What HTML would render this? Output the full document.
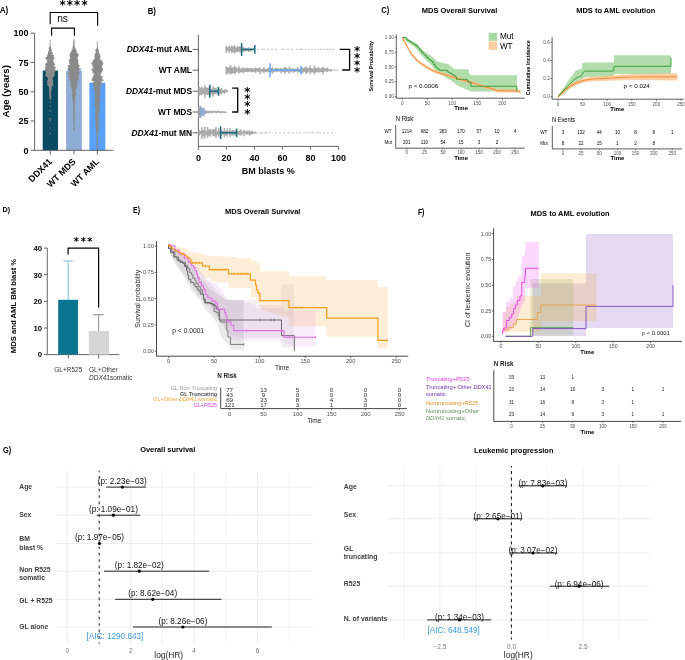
<!DOCTYPE html>
<html><head><meta charset="utf-8"><title>Figure</title>
<style>
html,body{margin:0;padding:0;background:#fff;}
body{width:685px;height:660px;overflow:hidden;}
svg{display:block;font-family:"Liberation Sans", Arial, sans-serif;}
</style></head><body>
<svg width="685" height="660" viewBox="0 0 685 660">
<rect width="685" height="660" fill="#fff"/>
<text x="-0.30" y="12.90" font-size="8.8" font-weight="700" textLength="8.6" lengthAdjust="spacingAndGlyphs">A)</text>
<line x1="34.60" y1="33.20" x2="34.60" y2="150.30" stroke="#555" stroke-width="0.9"/>
<line x1="30.60" y1="33.20" x2="34.60" y2="33.20" stroke="#555" stroke-width="0.9"/>
<text x="28.60" y="36.40" font-size="9" text-anchor="end" font-weight="700">100</text>
<line x1="30.60" y1="62.50" x2="34.60" y2="62.50" stroke="#555" stroke-width="0.9"/>
<text x="28.60" y="65.70" font-size="9" text-anchor="end" font-weight="700">75</text>
<line x1="30.60" y1="91.80" x2="34.60" y2="91.80" stroke="#555" stroke-width="0.9"/>
<text x="28.60" y="95.00" font-size="9" text-anchor="end" font-weight="700">50</text>
<line x1="30.60" y1="121.00" x2="34.60" y2="121.00" stroke="#555" stroke-width="0.9"/>
<text x="28.60" y="124.20" font-size="9" text-anchor="end" font-weight="700">25</text>
<line x1="30.60" y1="150.30" x2="34.60" y2="150.30" stroke="#555" stroke-width="0.9"/>
<text x="28.60" y="153.50" font-size="9" text-anchor="end" font-weight="700">0</text>
<text x="8.90" y="91.30" font-size="9.6" text-anchor="middle" font-weight="700" transform="rotate(-90 8.90 91.30)">Age (years)</text>
<rect x="42.70" y="70.60" width="15.30" height="79.70" fill="#0b4a63"/>
<rect x="66.10" y="70.60" width="15.70" height="79.70" fill="#8eadd6"/>
<rect x="89.40" y="82.70" width="15.90" height="67.60" fill="#58a0f8"/>
<path d="M49.41,45.60h1.10v1.3h-1.10zM48.90,46.77h2.00v1.3h-2.00zM48.78,47.94h2.64v1.3h-2.64zM48.89,49.11h2.64v1.3h-2.64zM48.58,50.28h3.15v1.3h-3.15zM48.08,51.45h3.67v1.3h-3.67zM47.94,52.62h4.98v1.3h-4.98zM47.65,53.79h4.72v1.3h-4.72zM47.18,54.96h6.68v1.3h-6.68zM46.57,56.13h7.12v1.3h-7.12zM45.45,57.30h8.86v1.3h-8.86zM45.93,58.47h8.24v1.3h-8.24zM47.07,59.64h5.72v1.3h-5.72zM47.09,60.81h6.67v1.3h-6.67zM46.82,61.98h6.88v1.3h-6.88zM45.40,63.15h9.42v1.3h-9.42zM45.03,64.32h9.73v1.3h-9.73zM46.05,65.49h7.89v1.3h-7.89zM44.52,66.66h11.26v1.3h-11.26zM45.39,67.83h9.74v1.3h-9.74zM44.88,69.00h10.36v1.3h-10.36zM44.41,70.17h11.86v1.3h-11.86zM46.00,71.34h8.50v1.3h-8.50zM45.96,72.51h9.01v1.3h-9.01zM45.49,73.68h9.11v1.3h-9.11zM45.27,74.85h9.33v1.3h-9.33zM47.02,76.02h6.73v1.3h-6.73zM47.52,77.19h5.34v1.3h-5.34zM48.07,78.36h4.50v1.3h-4.50zM47.38,79.53h5.75v1.3h-5.75zM47.13,80.70h5.88v1.3h-5.88zM47.41,81.87h5.72v1.3h-5.72zM47.33,83.04h5.68v1.3h-5.68zM47.35,84.21h6.32v1.3h-6.32zM48.21,85.38h4.20v1.3h-4.20zM49.13,86.55h2.42v1.3h-2.42zM49.20,87.72h2.69v1.3h-2.69zM48.67,88.89h2.75v1.3h-2.75zM49.25,90.06h2.15v1.3h-2.15zM49.30,91.23h1.74v1.3h-1.74zM49.00,92.40h1.87v1.3h-1.87zM49.52,93.57h1.73v1.3h-1.73zM49.13,94.74h1.78v1.3h-1.78zM49.45,95.91h2.02v1.3h-2.02zM49.34,97.08h1.66v1.3h-1.66zM49.74,98.25h1.46v1.3h-1.46zM49.60,40.00h1.2v1.2h-1.2zM49.60,42.30h1.2v1.2h-1.2zM49.60,44.00h1.2v1.2h-1.2zM49.60,101.50h1.2v1.2h-1.2zM49.60,105.50h1.2v1.2h-1.2zM49.60,110.00h1.2v1.2h-1.2zM48.80,118.30h1.2v1.2h-1.2zM50.40,118.30h1.2v1.2h-1.2zM49.60,120.30h1.2v1.2h-1.2zM49.60,127.40h1.2v1.2h-1.2zM49.60,133.00h1.2v1.2h-1.2z" fill="#8a8a8a"/>
<path d="M73.60,39.20h1.12v1.3h-1.12zM73.29,40.37h1.10v1.3h-1.10zM73.59,41.54h1.15v1.3h-1.15zM72.83,42.71h1.66v1.3h-1.66zM73.08,43.88h1.27v1.3h-1.27zM73.17,45.05h1.44v1.3h-1.44zM72.55,46.22h2.37v1.3h-2.37zM72.73,47.39h2.23v1.3h-2.23zM72.26,48.56h3.38v1.3h-3.38zM71.39,49.73h5.29v1.3h-5.29zM71.40,50.90h5.16v1.3h-5.16zM70.40,52.07h6.38v1.3h-6.38zM69.96,53.24h8.28v1.3h-8.28zM69.38,54.41h9.46v1.3h-9.46zM69.65,55.58h8.36v1.3h-8.36zM70.23,56.75h7.53v1.3h-7.53zM69.75,57.92h7.70v1.3h-7.70zM69.30,59.09h8.73v1.3h-8.73zM68.71,60.26h9.75v1.3h-9.75zM69.46,61.43h8.40v1.3h-8.40zM69.23,62.60h9.15v1.3h-9.15zM69.73,63.77h8.86v1.3h-8.86zM67.58,64.94h12.15v1.3h-12.15zM68.63,66.11h10.32v1.3h-10.32zM68.08,67.28h11.11v1.3h-11.11zM67.31,68.45h13.87v1.3h-13.87zM68.12,69.62h11.54v1.3h-11.54zM68.97,70.79h9.29v1.3h-9.29zM68.48,71.96h10.51v1.3h-10.51zM67.38,73.13h12.56v1.3h-12.56zM70.18,74.30h8.08v1.3h-8.08zM68.62,75.47h10.07v1.3h-10.07zM68.74,76.64h9.65v1.3h-9.65zM69.68,77.81h9.11v1.3h-9.11zM69.06,78.98h9.96v1.3h-9.96zM70.24,80.15h7.14v1.3h-7.14zM70.90,81.32h6.38v1.3h-6.38zM70.50,82.49h7.20v1.3h-7.20zM70.66,83.66h6.09v1.3h-6.09zM70.72,84.83h7.04v1.3h-7.04zM70.81,86.00h6.61v1.3h-6.61zM71.08,87.17h5.97v1.3h-5.97zM71.83,88.34h4.16v1.3h-4.16zM71.48,89.51h4.19v1.3h-4.19zM72.11,90.68h3.28v1.3h-3.28zM72.29,91.85h3.48v1.3h-3.48zM71.65,93.02h4.42v1.3h-4.42zM72.22,94.19h4.04v1.3h-4.04zM71.94,95.36h3.73v1.3h-3.73zM72.49,96.53h2.44v1.3h-2.44zM72.59,97.70h2.21v1.3h-2.21zM72.94,98.87h2.47v1.3h-2.47zM72.67,100.04h2.44v1.3h-2.44zM73.06,101.21h2.10v1.3h-2.10zM73.28,102.38h1.46v1.3h-1.46zM73.10,103.55h2.00v1.3h-2.00zM72.99,104.72h1.79v1.3h-1.79zM73.44,105.89h1.33v1.3h-1.33zM73.40,107.06h1.42v1.3h-1.42zM72.91,108.23h1.84v1.3h-1.84zM73.51,109.40h1.41v1.3h-1.41zM72.87,110.57h1.60v1.3h-1.60zM73.07,111.74h1.18v1.3h-1.18zM73.28,112.91h1.68v1.3h-1.68zM73.55,114.08h1.16v1.3h-1.16zM73.17,115.25h1.68v1.3h-1.68zM73.31,116.42h1.25v1.3h-1.25zM73.01,117.59h1.10v1.3h-1.10zM73.21,118.76h1.60v1.3h-1.60zM73.55,119.93h1.30v1.3h-1.30zM73.55,121.10h1.23v1.3h-1.23zM72.98,122.27h1.44v1.3h-1.44zM73.21,123.44h1.10v1.3h-1.10zM73.41,124.61h1.10v1.3h-1.10zM73.29,125.78h1.10v1.3h-1.10zM73.64,126.95h1.10v1.3h-1.10zM73.32,128.12h1.10v1.3h-1.10zM73.63,129.29h1.10v1.3h-1.10z" fill="#8a8a8a"/>
<path d="M97.04,47.00h1.10v1.3h-1.10zM96.29,48.17h2.06v1.3h-2.06zM95.54,49.34h2.84v1.3h-2.84zM95.37,50.51h3.42v1.3h-3.42zM95.92,51.68h3.18v1.3h-3.18zM95.26,52.85h4.04v1.3h-4.04zM94.47,54.02h5.74v1.3h-5.74zM94.76,55.19h5.11v1.3h-5.11zM94.45,56.36h6.10v1.3h-6.10zM94.75,57.53h5.19v1.3h-5.19zM94.13,58.70h6.04v1.3h-6.04zM92.87,59.87h8.86v1.3h-8.86zM92.82,61.04h9.32v1.3h-9.32zM91.24,62.21h12.05v1.3h-12.05zM91.84,63.38h10.93v1.3h-10.93zM92.32,64.55h10.23v1.3h-10.23zM92.72,65.72h9.20v1.3h-9.20zM93.14,66.89h8.94v1.3h-8.94zM92.42,68.06h10.30v1.3h-10.30zM91.32,69.23h11.63v1.3h-11.63zM92.89,70.40h9.45v1.3h-9.45zM91.97,71.57h10.14v1.3h-10.14zM93.70,72.74h7.13v1.3h-7.13zM93.60,73.91h7.03v1.3h-7.03zM93.84,75.08h7.16v1.3h-7.16zM92.15,76.25h10.86v1.3h-10.86zM93.17,77.42h8.56v1.3h-8.56zM91.52,78.59h11.06v1.3h-11.06zM91.84,79.76h11.58v1.3h-11.58zM93.56,80.93h8.11v1.3h-8.11zM93.07,82.10h8.43v1.3h-8.43zM92.48,83.27h10.11v1.3h-10.11zM94.06,84.44h6.39v1.3h-6.39zM93.60,85.61h7.18v1.3h-7.18zM94.25,86.78h5.84v1.3h-5.84zM93.38,87.95h7.17v1.3h-7.17zM94.05,89.12h6.41v1.3h-6.41zM94.85,90.29h4.66v1.3h-4.66zM94.25,91.46h6.12v1.3h-6.12zM95.38,92.63h4.51v1.3h-4.51zM94.41,93.80h6.44v1.3h-6.44zM94.83,94.97h4.62v1.3h-4.62zM95.28,96.14h4.44v1.3h-4.44zM94.56,97.31h4.96v1.3h-4.96zM94.95,98.48h5.27v1.3h-5.27zM94.04,99.65h6.18v1.3h-6.18zM95.40,100.82h4.38v1.3h-4.38zM94.80,101.99h5.27v1.3h-5.27zM94.99,103.16h4.01v1.3h-4.01zM94.62,104.33h5.25v1.3h-5.25zM95.73,105.50h3.76v1.3h-3.76zM95.08,106.67h4.86v1.3h-4.86zM95.76,107.84h3.58v1.3h-3.58zM95.83,109.01h3.44v1.3h-3.44zM95.13,110.18h4.11v1.3h-4.11zM95.50,111.35h4.20v1.3h-4.20zM95.25,112.52h3.57v1.3h-3.57zM95.14,113.69h3.96v1.3h-3.96zM95.50,114.86h3.12v1.3h-3.12zM95.62,116.03h2.94v1.3h-2.94zM95.50,117.20h3.32v1.3h-3.32zM95.15,118.37h4.00v1.3h-4.00zM95.33,119.54h3.49v1.3h-3.49zM95.38,120.71h3.16v1.3h-3.16zM95.49,121.88h2.94v1.3h-2.94zM95.53,123.05h3.61v1.3h-3.61zM95.93,124.22h2.71v1.3h-2.71zM95.16,125.39h3.72v1.3h-3.72zM95.56,126.56h3.38v1.3h-3.38zM96.15,127.73h2.77v1.3h-2.77zM96.07,128.90h2.48v1.3h-2.48zM96.31,130.07h2.66v1.3h-2.66zM96.48,131.24h2.11v1.3h-2.11zM96.24,132.41h2.31v1.3h-2.31zM96.27,133.58h1.85v1.3h-1.85zM96.34,134.75h1.41v1.3h-1.41zM96.79,135.92h1.36v1.3h-1.36zM96.35,137.09h1.44v1.3h-1.44zM96.92,138.26h1.24v1.3h-1.24zM96.56,139.43h1.72v1.3h-1.72zM96.50,140.60h1.25v1.3h-1.25zM96.68,141.77h1.18v1.3h-1.18zM96.71,142.94h1.10v1.3h-1.10zM97.07,144.11h1.10v1.3h-1.10zM96.62,145.28h1.42v1.3h-1.42zM97.08,146.45h1.10v1.3h-1.10zM96.65,147.62h1.10v1.3h-1.10zM96.67,148.79h1.10v1.3h-1.10zM96.75,149.96h1.10v1.3h-1.10zM96.70,41.40h1.2v1.2h-1.2zM96.70,43.50h1.2v1.2h-1.2zM96.70,45.60h1.2v1.2h-1.2z" fill="#8a8a8a"/>
<line x1="34.60" y1="150.30" x2="113.50" y2="150.30" stroke="#555" stroke-width="0.9"/>
<line x1="50.20" y1="150.30" x2="50.20" y2="154.50" stroke="#555" stroke-width="0.9"/>
<line x1="73.90" y1="150.30" x2="73.90" y2="154.50" stroke="#555" stroke-width="0.9"/>
<line x1="97.30" y1="150.30" x2="97.30" y2="154.50" stroke="#555" stroke-width="0.9"/>
<text x="52.60" y="162.20" font-size="9" text-anchor="end" font-weight="700" transform="rotate(-45 52.60 162.20)">DDX41</text>
<text x="76.30" y="162.20" font-size="9" text-anchor="end" font-weight="700" transform="rotate(-45 76.30 162.20)">WT MDS</text>
<text x="99.70" y="162.20" font-size="9" text-anchor="end" font-weight="700" transform="rotate(-45 99.70 162.20)">WT AML</text>
<path d="M51.6,35.8V28.1H74.4V35.8" stroke="#000" fill="none" stroke-width="1.1"/>
<path d="M50.2,24.2V12.5H97.6V25.8" stroke="#000" fill="none" stroke-width="1.1"/>
<text x="62.60" y="22.20" font-size="10.2" text-anchor="middle">ns</text>
<text x="62.60" y="8.98" font-size="11.8" text-anchor="middle" font-weight="700" font-family="DejaVu Sans">*</text>
<text x="69.90" y="8.98" font-size="11.8" text-anchor="middle" font-weight="700" font-family="DejaVu Sans">*</text>
<text x="77.20" y="8.98" font-size="11.8" text-anchor="middle" font-weight="700" font-family="DejaVu Sans">*</text>
<text x="84.50" y="8.98" font-size="11.8" text-anchor="middle" font-weight="700" font-family="DejaVu Sans">*</text>
<text x="147.70" y="13.70" font-size="8.6" font-weight="700" textLength="8.2" lengthAdjust="spacingAndGlyphs">B)</text>
<line x1="198.40" y1="35.00" x2="198.40" y2="146.40" stroke="#555" stroke-width="0.9"/>
<line x1="192.60" y1="49.40" x2="198.40" y2="49.40" stroke="#555" stroke-width="0.9"/>
<text x="192.00" y="52.40" font-size="8.4" text-anchor="end" font-weight="700"><tspan font-style="italic">DDX41</tspan>-mut AML</text>
<line x1="192.60" y1="70.20" x2="198.40" y2="70.20" stroke="#555" stroke-width="0.9"/>
<text x="192.00" y="73.20" font-size="8.4" text-anchor="end" font-weight="700">WT AML</text>
<line x1="192.60" y1="91.20" x2="198.40" y2="91.20" stroke="#555" stroke-width="0.9"/>
<text x="192.00" y="94.20" font-size="8.4" text-anchor="end" font-weight="700"><tspan font-style="italic">DDX41</tspan>-mut MDS</text>
<line x1="192.60" y1="112.00" x2="198.40" y2="112.00" stroke="#555" stroke-width="0.9"/>
<text x="192.00" y="115.00" font-size="8.4" text-anchor="end" font-weight="700">WT MDS</text>
<line x1="192.60" y1="132.80" x2="198.40" y2="132.80" stroke="#555" stroke-width="0.9"/>
<text x="192.00" y="135.80" font-size="8.4" text-anchor="end" font-weight="700"><tspan font-style="italic">DDX41</tspan>-mut MN</text>
<line x1="198.40" y1="146.40" x2="338.60" y2="146.40" stroke="#555" stroke-width="0.9"/>
<line x1="198.40" y1="146.40" x2="198.40" y2="149.80" stroke="#555" stroke-width="0.9"/>
<text x="198.40" y="161.00" font-size="9" text-anchor="middle" font-weight="700">0</text>
<line x1="226.40" y1="146.40" x2="226.40" y2="149.80" stroke="#555" stroke-width="0.9"/>
<text x="226.40" y="161.00" font-size="9" text-anchor="middle" font-weight="700">20</text>
<line x1="254.40" y1="146.40" x2="254.40" y2="149.80" stroke="#555" stroke-width="0.9"/>
<text x="254.40" y="161.00" font-size="9" text-anchor="middle" font-weight="700">40</text>
<line x1="282.40" y1="146.40" x2="282.40" y2="149.80" stroke="#555" stroke-width="0.9"/>
<text x="282.40" y="161.00" font-size="9" text-anchor="middle" font-weight="700">60</text>
<line x1="310.40" y1="146.40" x2="310.40" y2="149.80" stroke="#555" stroke-width="0.9"/>
<text x="310.40" y="161.00" font-size="9" text-anchor="middle" font-weight="700">80</text>
<line x1="338.40" y1="146.40" x2="338.40" y2="149.80" stroke="#555" stroke-width="0.9"/>
<text x="338.40" y="161.00" font-size="9" text-anchor="middle" font-weight="700">100</text>
<text x="268.30" y="173.90" font-size="9" text-anchor="middle" font-weight="700">BM blasts %</text>
<path d="M225.50,46.01v6.79h1.5v-6.79zM226.90,47.30v3.82h1.5v-3.82zM228.30,45.91v6.82h1.5v-6.82zM229.70,47.02v4.00h1.5v-4.00zM231.10,45.36v7.65h1.5v-7.65zM232.50,46.73v5.38h1.5v-5.38zM233.90,45.21v8.64h1.5v-8.64zM235.30,47.29v4.83h1.5v-4.83zM236.70,46.15v6.22h1.5v-6.22zM238.10,46.59v5.06h1.5v-5.06zM239.50,46.45v6.13h1.5v-6.13zM240.90,48.61v2.12h1.5v-2.12zM242.30,46.65v5.71h1.5v-5.71zM243.70,48.04v3.21h1.5v-3.21zM245.10,47.68v3.47h1.5v-3.47zM246.50,48.36v2.62h1.5v-2.62zM247.90,47.28v4.76h1.5v-4.76zM249.30,48.47v2.49h1.5v-2.49zM250.70,47.56v4.00h1.5v-4.00zM252.10,48.15v1.75h1.5v-1.75zM253.50,48.27v2.04h1.5v-2.04zM242.40,48.80h1.2v1.2h-1.2zM245.40,48.80h1.2v1.2h-1.2zM248.40,48.80h1.2v1.2h-1.2zM250.40,48.80h1.2v1.2h-1.2zM252.40,48.80h1.2v1.2h-1.2zM257.40,48.80h1.2v1.2h-1.2zM261.40,48.80h1.2v1.2h-1.2zM263.40,48.80h1.2v1.2h-1.2zM267.40,48.80h1.2v1.2h-1.2zM271.40,48.80h1.2v1.2h-1.2zM275.40,48.80h1.2v1.2h-1.2zM281.40,48.80h1.2v1.2h-1.2zM283.40,48.80h1.2v1.2h-1.2zM287.40,48.80h1.2v1.2h-1.2zM291.40,48.80h1.2v1.2h-1.2zM296.40,48.80h1.2v1.2h-1.2zM299.40,48.80h1.2v1.2h-1.2zM301.40,48.80h1.2v1.2h-1.2zM305.40,48.80h1.2v1.2h-1.2zM308.40,48.80h1.2v1.2h-1.2zM311.40,48.80h1.2v1.2h-1.2zM314.40,48.80h1.2v1.2h-1.2zM317.40,48.80h1.2v1.2h-1.2zM320.40,48.80h1.2v1.2h-1.2zM323.40,48.80h1.2v1.2h-1.2zM326.40,48.80h1.2v1.2h-1.2zM329.40,48.80h1.2v1.2h-1.2zM332.40,48.80h1.2v1.2h-1.2z" fill="#ababab"/>
<path d="M225.50,66.49v7.96h1.5v-7.96zM226.90,67.18v6.25h1.5v-6.25zM228.30,67.16v6.37h1.5v-6.37zM229.70,65.10v9.40h1.5v-9.40zM231.10,67.14v6.52h1.5v-6.52zM232.50,67.51v5.44h1.5v-5.44zM233.90,65.43v8.85h1.5v-8.85zM235.30,67.35v5.30h1.5v-5.30zM236.70,68.28v3.46h1.5v-3.46zM238.10,66.33v7.27h1.5v-7.27zM239.50,68.51v4.14h1.5v-4.14zM240.90,68.34v3.54h1.5v-3.54zM242.30,67.54v5.61h1.5v-5.61zM243.70,68.32v3.94h1.5v-3.94zM245.10,68.02v3.69h1.5v-3.69zM246.50,67.74v4.53h1.5v-4.53zM247.90,68.15v3.79h1.5v-3.79zM249.30,68.07v3.49h1.5v-3.49zM250.70,67.89v4.24h1.5v-4.24zM252.10,68.52v3.66h1.5v-3.66zM253.50,68.20v3.67h1.5v-3.67zM254.90,67.43v5.48h1.5v-5.48zM256.30,68.24v3.32h1.5v-3.32zM257.70,67.94v4.04h1.5v-4.04zM259.10,67.18v6.74h1.5v-6.74zM260.50,68.89v2.56h1.5v-2.56zM261.90,68.62v3.91h1.5v-3.91zM263.30,67.35v5.33h1.5v-5.33zM264.70,69.10v2.91h1.5v-2.91zM266.10,68.80v2.93h1.5v-2.93zM267.50,67.94v4.56h1.5v-4.56zM268.90,67.79v4.24h1.5v-4.24zM270.30,68.19v4.03h1.5v-4.03zM271.70,67.02v6.68h1.5v-6.68zM273.10,69.02v3.01h1.5v-3.01zM274.50,68.10v3.45h1.5v-3.45zM275.90,68.09v4.21h1.5v-4.21zM277.30,68.35v3.39h1.5v-3.39zM278.70,68.65v2.85h1.5v-2.85zM280.10,67.93v5.09h1.5v-5.09zM281.50,69.10v2.61h1.5v-2.61zM282.90,67.87v4.06h1.5v-4.06zM284.30,66.97v6.79h1.5v-6.79zM285.70,67.95v4.17h1.5v-4.17zM287.10,68.49v3.25h1.5v-3.25zM288.50,66.77v7.00h1.5v-7.00zM289.90,68.53v3.23h1.5v-3.23zM291.30,68.29v3.09h1.5v-3.09zM292.70,68.21v4.52h1.5v-4.52zM294.10,68.98v3.14h1.5v-3.14zM295.50,68.47v3.08h1.5v-3.08zM296.90,67.08v5.74h1.5v-5.74zM298.30,68.90v3.33h1.5v-3.33zM299.70,68.32v4.25h1.5v-4.25zM301.10,67.35v6.36h1.5v-6.36zM302.50,67.88v4.72h1.5v-4.72zM303.90,67.60v4.48h1.5v-4.48zM305.30,66.40v7.52h1.5v-7.52zM306.70,67.93v4.77h1.5v-4.77zM308.10,67.92v3.84h1.5v-3.84zM309.50,65.64v8.53h1.5v-8.53zM310.90,67.90v4.36h1.5v-4.36zM312.30,68.39v4.00h1.5v-4.00zM313.70,65.61v8.80h1.5v-8.80zM315.10,67.69v4.70h1.5v-4.70zM316.50,67.90v4.44h1.5v-4.44zM317.90,67.06v5.74h1.5v-5.74zM319.30,68.75v3.55h1.5v-3.55zM320.70,67.96v4.04h1.5v-4.04zM322.10,66.79v7.62h1.5v-7.62zM323.50,68.05v3.72h1.5v-3.72zM324.90,68.38v2.99h1.5v-2.99zM326.30,67.52v4.70h1.5v-4.70zM327.70,68.86v2.29h1.5v-2.29zM329.10,69.51v2.00h1.5v-2.00zM330.50,69.05v2.16h1.5v-2.16zM331.90,69.72v1.00h1.5v-1.00zM333.30,69.57v1.00h1.5v-1.00zM334.70,69.46v1.12h1.5v-1.12zM336.10,69.40v1.00h1.5v-1.00z" fill="#ababab"/>
<path d="M198.40,86.64v9.32h1.5v-9.32zM199.80,87.43v7.09h1.5v-7.09zM201.20,86.84v8.31h1.5v-8.31zM202.60,88.32v5.68h1.5v-5.68zM204.00,85.31v12.34h1.5v-12.34zM205.40,87.13v7.37h1.5v-7.37zM206.80,87.81v7.11h1.5v-7.11zM208.20,87.47v7.42h1.5v-7.42zM209.60,85.83v9.93h1.5v-9.93zM211.00,88.87v5.34h1.5v-5.34zM212.40,86.21v10.54h1.5v-10.54zM213.80,87.67v6.66h1.5v-6.66zM215.20,87.83v6.18h1.5v-6.18zM216.60,88.95v4.79h1.5v-4.79zM218.00,86.75v9.25h1.5v-9.25zM219.40,89.03v4.77h1.5v-4.77zM220.80,87.99v6.50h1.5v-6.50zM222.20,90.04v2.78h1.5v-2.78zM223.60,89.18v4.71h1.5v-4.71zM225.00,89.53v3.02h1.5v-3.02zM226.40,89.75v2.50h1.5v-2.50z" fill="#ababab"/>
<path d="M198.40,106.28v11.76h1.5v-11.76zM199.40,106.81v9.68h1.5v-9.68zM200.40,106.41v11.32h1.5v-11.32zM201.40,107.93v7.69h1.5v-7.69zM202.40,108.54v6.13h1.5v-6.13zM203.40,109.94v4.05h1.5v-4.05zM204.40,110.18v3.87h1.5v-3.87zM205.40,110.49v2.99h1.5v-2.99zM206.40,110.71v2.18h1.5v-2.18zM207.40,110.90v2.53h1.5v-2.53zM208.40,110.67v1.89h1.5v-1.89zM209.40,111.14v2.00h1.5v-2.00zM210.40,110.85v1.91h1.5v-1.91zM211.40,111.31v2.05h1.5v-2.05zM212.40,110.77v1.72h1.5v-1.72zM213.40,111.05v1.77h1.5v-1.77zM214.40,110.77v1.97h1.5v-1.97zM215.40,111.19v2.01h1.5v-2.01zM216.40,110.87v1.79h1.5v-1.79zM217.40,110.82v2.05h1.5v-2.05zM218.40,110.82v1.92h1.5v-1.92zM219.40,111.44v1.53h1.5v-1.53zM220.40,111.59v1.55h1.5v-1.55zM221.40,110.93v1.64h1.5v-1.64zM222.40,111.21v1.45h1.5v-1.45zM223.40,111.52v1.67h1.5v-1.67zM224.40,111.24v1.35h1.5v-1.35zM225.40,111.88v1.00h1.5v-1.00z" fill="#ababab"/>
<path d="M198.40,129.27v6.34h1.5v-6.34zM199.80,130.90v3.63h1.5v-3.63zM201.20,127.32v11.57h1.5v-11.57zM202.60,129.92v6.55h1.5v-6.55zM204.00,126.64v12.04h1.5v-12.04zM205.40,131.00v4.30h1.5v-4.30zM206.80,127.06v10.73h1.5v-10.73zM208.20,129.58v6.25h1.5v-6.25zM209.60,128.65v8.03h1.5v-8.03zM211.00,130.36v4.09h1.5v-4.09zM212.40,129.04v7.27h1.5v-7.27zM213.80,128.97v7.06h1.5v-7.06zM215.20,127.12v10.90h1.5v-10.90zM216.60,130.94v4.23h1.5v-4.23zM218.00,128.24v9.02h1.5v-9.02zM219.40,131.30v2.96h1.5v-2.96zM220.80,129.86v6.55h1.5v-6.55zM222.20,130.97v3.45h1.5v-3.45zM223.60,127.71v9.43h1.5v-9.43zM225.00,130.95v4.19h1.5v-4.19zM226.40,128.14v8.58h1.5v-8.58zM227.80,131.04v2.82h1.5v-2.82zM229.20,128.05v9.10h1.5v-9.10zM230.60,130.62v5.00h1.5v-5.00zM232.00,129.69v5.86h1.5v-5.86zM233.40,130.24v5.32h1.5v-5.32zM234.80,130.49v4.97h1.5v-4.97zM236.20,131.08v3.07h1.5v-3.07zM237.60,131.30v3.40h1.5v-3.40zM239.00,130.81v4.20h1.5v-4.20zM240.40,129.15v6.54h1.5v-6.54zM241.80,131.60v2.35h1.5v-2.35zM243.20,130.05v6.22h1.5v-6.22zM244.60,131.33v2.54h1.5v-2.54zM246.00,130.74v4.12h1.5v-4.12zM247.40,130.84v3.41h1.5v-3.41zM248.80,130.57v4.85h1.5v-4.85zM250.20,131.59v2.86h1.5v-2.86zM251.60,130.87v3.57h1.5v-3.57zM253.00,131.91v1.55h1.5v-1.55zM254.40,131.51v1.90h1.5v-1.90zM256.40,132.20h1.2v1.2h-1.2zM259.40,132.20h1.2v1.2h-1.2zM261.40,132.20h1.2v1.2h-1.2zM264.40,132.20h1.2v1.2h-1.2zM266.40,132.20h1.2v1.2h-1.2zM269.40,132.20h1.2v1.2h-1.2zM275.40,132.20h1.2v1.2h-1.2zM279.40,132.20h1.2v1.2h-1.2zM283.40,132.20h1.2v1.2h-1.2zM288.40,132.20h1.2v1.2h-1.2zM292.40,132.20h1.2v1.2h-1.2zM296.40,132.20h1.2v1.2h-1.2zM299.40,132.20h1.2v1.2h-1.2zM303.40,132.20h1.2v1.2h-1.2zM306.40,132.20h1.2v1.2h-1.2zM309.40,132.20h1.2v1.2h-1.2zM312.40,132.20h1.2v1.2h-1.2zM316.40,132.20h1.2v1.2h-1.2zM319.40,132.20h1.2v1.2h-1.2zM323.40,132.20h1.2v1.2h-1.2zM327.40,132.20h1.2v1.2h-1.2zM331.40,132.20h1.2v1.2h-1.2z" fill="#ababab"/>
<line x1="241.60" y1="42.90" x2="241.60" y2="55.90" stroke="#1d6e82" stroke-width="1.5"/>
<line x1="254.80" y1="45.10" x2="254.80" y2="53.70" stroke="#1d6e82" stroke-width="1.5"/>
<line x1="241.60" y1="49.40" x2="254.80" y2="49.40" stroke="#1d6e82" stroke-width="1.5"/>
<line x1="270.10" y1="63.20" x2="270.10" y2="77.20" stroke="#6aa6f0" stroke-width="1.5"/>
<line x1="301.00" y1="65.90" x2="301.00" y2="74.50" stroke="#6aa6f0" stroke-width="1.5"/>
<line x1="270.10" y1="70.20" x2="301.00" y2="70.20" stroke="#6aa6f0" stroke-width="1.5"/>
<line x1="209.70" y1="84.70" x2="209.70" y2="97.70" stroke="#1d6e82" stroke-width="1.5"/>
<line x1="218.40" y1="86.90" x2="218.40" y2="95.50" stroke="#1d6e82" stroke-width="1.5"/>
<line x1="209.70" y1="91.20" x2="218.40" y2="91.20" stroke="#1d6e82" stroke-width="1.5"/>
<line x1="200.50" y1="106.50" x2="200.50" y2="117.50" stroke="#7fa9e0" stroke-width="1.5"/>
<line x1="203.80" y1="107.70" x2="203.80" y2="116.30" stroke="#7fa9e0" stroke-width="1.5"/>
<line x1="200.50" y1="112.00" x2="203.80" y2="112.00" stroke="#7fa9e0" stroke-width="1.5"/>
<line x1="220.60" y1="126.30" x2="220.60" y2="139.30" stroke="#1d6e82" stroke-width="1.5"/>
<line x1="236.60" y1="128.50" x2="236.60" y2="137.10" stroke="#1d6e82" stroke-width="1.5"/>
<line x1="220.60" y1="132.80" x2="236.60" y2="132.80" stroke="#1d6e82" stroke-width="1.5"/>
<path d="M339.7,49.3H349.6V70H342.2" stroke="#000" fill="none" stroke-width="1.3"/>
<path d="M232.2,88.2H237.7V112H232.2" stroke="#000" fill="none" stroke-width="1.3"/>
<text x="357.00" y="54.88" font-size="11.8" text-anchor="middle" font-weight="700" font-family="DejaVu Sans">*</text>
<text x="357.00" y="61.78" font-size="11.8" text-anchor="middle" font-weight="700" font-family="DejaVu Sans">*</text>
<text x="357.00" y="68.98" font-size="11.8" text-anchor="middle" font-weight="700" font-family="DejaVu Sans">*</text>
<text x="357.00" y="75.98" font-size="11.8" text-anchor="middle" font-weight="700" font-family="DejaVu Sans">*</text>
<text x="247.40" y="96.28" font-size="11.8" text-anchor="middle" font-weight="700" font-family="DejaVu Sans">*</text>
<text x="247.40" y="102.88" font-size="11.8" text-anchor="middle" font-weight="700" font-family="DejaVu Sans">*</text>
<text x="247.40" y="110.48" font-size="11.8" text-anchor="middle" font-weight="700" font-family="DejaVu Sans">*</text>
<text x="247.40" y="117.58" font-size="11.8" text-anchor="middle" font-weight="700" font-family="DejaVu Sans">*</text>
<text x="381.30" y="13.40" font-size="8.6" font-weight="700" textLength="8.0" lengthAdjust="spacingAndGlyphs">C)</text>
<text x="459.50" y="12.80" font-size="7.5" text-anchor="middle" font-weight="700">MDS Overall Survival</text>
<text x="615.80" y="12.80" font-size="7.5" text-anchor="middle" font-weight="700">MDS to AML evolution</text>
<line x1="396.30" y1="34.50" x2="396.30" y2="98.40" stroke="#333" stroke-width="0.8"/>
<line x1="396.30" y1="98.20" x2="524.70" y2="98.20" stroke="#333" stroke-width="0.8"/>
<line x1="394.60" y1="37.40" x2="396.30" y2="37.40" stroke="#333" stroke-width="0.6"/>
<text x="393.80" y="39.00" font-size="4.6" text-anchor="end" fill="#4d4d4d">1.00</text>
<line x1="394.60" y1="52.20" x2="396.30" y2="52.20" stroke="#333" stroke-width="0.6"/>
<text x="393.80" y="53.80" font-size="4.6" text-anchor="end" fill="#4d4d4d">0.75</text>
<line x1="394.60" y1="67.00" x2="396.30" y2="67.00" stroke="#333" stroke-width="0.6"/>
<text x="393.80" y="68.60" font-size="4.6" text-anchor="end" fill="#4d4d4d">0.50</text>
<line x1="394.60" y1="81.80" x2="396.30" y2="81.80" stroke="#333" stroke-width="0.6"/>
<text x="393.80" y="83.40" font-size="4.6" text-anchor="end" fill="#4d4d4d">0.25</text>
<line x1="394.60" y1="96.60" x2="396.30" y2="96.60" stroke="#333" stroke-width="0.6"/>
<text x="393.80" y="98.20" font-size="4.6" text-anchor="end" fill="#4d4d4d">0.00</text>
<line x1="402.20" y1="98.20" x2="402.20" y2="99.90" stroke="#333" stroke-width="0.6"/>
<text x="402.20" y="104.50" font-size="4.6" text-anchor="middle" fill="#4d4d4d">0</text>
<line x1="427.20" y1="98.20" x2="427.20" y2="99.90" stroke="#333" stroke-width="0.6"/>
<text x="427.20" y="104.50" font-size="4.6" text-anchor="middle" fill="#4d4d4d">50</text>
<line x1="452.20" y1="98.20" x2="452.20" y2="99.90" stroke="#333" stroke-width="0.6"/>
<text x="452.20" y="104.50" font-size="4.6" text-anchor="middle" fill="#4d4d4d">100</text>
<line x1="477.20" y1="98.20" x2="477.20" y2="99.90" stroke="#333" stroke-width="0.6"/>
<text x="477.20" y="104.50" font-size="4.6" text-anchor="middle" fill="#4d4d4d">150</text>
<line x1="502.20" y1="98.20" x2="502.20" y2="99.90" stroke="#333" stroke-width="0.6"/>
<text x="502.20" y="104.50" font-size="4.6" text-anchor="middle" fill="#4d4d4d">200</text>
<text x="461.10" y="110.00" font-size="6" text-anchor="middle" font-weight="700">Time</text>
<text x="372.70" y="66.20" font-size="5.6" text-anchor="middle" font-weight="700" transform="rotate(-90 372.70 66.20)" textLength="50.5" lengthAdjust="spacingAndGlyphs">Survival Probability</text>
<polygon points="402.20,36.80 407.70,38.50 416.20,43.30 421.50,49.10 426.80,53.30 432.10,56.50 437.40,61.80 448.00,63.90 453.30,68.20 456.50,69.20 468.60,69.20 468.60,72.60 470.90,75.20 516.90,75.20 516.90,91.40 470.90,91.40 465.00,89.00 456.50,85.10 453.30,82.00 448.00,78.80 442.70,75.60 437.40,72.40 432.10,66.00 426.80,60.80 421.50,55.50 416.20,48.60 407.70,42.00 402.20,38.00" fill="#a9d9a3" fill-opacity="0.9"/>
<polygon points="402.20,35.80 405.60,42.20 410.90,51.70 416.20,58.10 421.50,62.30 426.80,65.50 432.10,68.70 437.40,70.80 442.70,72.40 448.00,74.00 455.00,76.10 466.40,79.50 477.70,82.90 489.10,86.40 498.20,89.20 516.90,89.20 520.50,89.50 521.00,93.50 516.90,92.40 498.20,92.40 489.10,89.60 477.70,86.10 466.40,82.70 455.00,79.30 448.00,77.20 442.70,75.60 437.40,74.00 432.10,71.90 426.80,68.70 421.50,65.50 416.20,61.30 410.90,54.90 405.60,45.40 402.20,39.00" fill="#fdbf8a" fill-opacity="0.75"/>
<polyline points="402.20,37.40 405.60,43.80 410.90,53.30 416.20,59.70 421.50,63.90 426.80,67.10 432.10,70.30 437.40,72.40 442.70,74.00 448.00,75.60 455.00,77.70 466.40,81.10 477.70,84.50 489.10,88.00 498.20,90.80 516.90,90.80 519.80,91.90" fill="none" stroke="#f0862a" stroke-width="0.9"/>
<polyline points="402.20,37.40 403.65,37.40 403.65,37.50 405.10,37.50 405.10,37.60 406.40,37.60 406.40,39.10 407.70,39.10 407.70,40.60 409.40,40.60 409.40,41.66 411.10,41.66 411.10,42.72 412.80,42.72 412.80,43.78 414.50,43.78 414.50,44.84 416.20,44.84 416.20,45.90 417.97,45.90 417.97,48.03 419.73,48.03 419.73,50.17 421.50,50.17 421.50,52.30 423.27,52.30 423.27,54.07 425.03,54.07 425.03,55.83 426.80,55.83 426.80,57.60 428.57,57.60 428.57,59.17 430.33,59.17 430.33,60.73 432.10,60.73 432.10,62.30 433.70,62.30 433.70,64.70 435.30,64.70 435.30,67.10 436.70,67.10 436.70,68.17 438.10,68.17 438.10,69.23 439.50,69.23 439.50,70.30 445.90,70.30 447.30,70.30 447.30,71.37 448.70,71.37 448.70,72.43 450.10,72.43 450.10,73.50 451.87,73.50 451.87,74.57 453.63,74.57 453.63,75.63 455.40,75.63 455.40,76.70 456.50,76.70 456.50,79.30 458.05,79.30 458.05,79.32 459.60,79.32 459.60,79.33 461.15,79.33 461.15,79.35 462.70,79.35 462.70,79.37 464.25,79.37 464.25,79.38 465.80,79.38 465.80,79.40 467.20,79.40 467.20,80.85 468.60,80.85 468.60,82.30 470.90,82.30 470.90,86.25 516.90,86.25 516.90,91.40" fill="none" stroke="#2e9a2e" stroke-width="0.9"/>
<rect x="488.60" y="32.80" width="8.50" height="8.00" fill="#a9d9a3"/>
<rect x="488.60" y="41.40" width="8.50" height="8.50" fill="#fdcda4"/>
<text x="499.90" y="39.20" font-size="8.2">Mut</text>
<text x="499.90" y="48.80" font-size="8.2">WT</text>
<text x="408.50" y="87.80" font-size="6.25">p &lt; 0.0006</text>
<line x1="552.10" y1="37.10" x2="552.10" y2="99.40" stroke="#333" stroke-width="0.8"/>
<line x1="552.10" y1="99.20" x2="684.00" y2="99.20" stroke="#333" stroke-width="0.8"/>
<line x1="550.40" y1="42.40" x2="552.10" y2="42.40" stroke="#333" stroke-width="0.6"/>
<text x="549.70" y="44.00" font-size="4.6" text-anchor="end" fill="#4d4d4d">0.6</text>
<line x1="550.40" y1="60.50" x2="552.10" y2="60.50" stroke="#333" stroke-width="0.6"/>
<text x="549.70" y="62.10" font-size="4.6" text-anchor="end" fill="#4d4d4d">0.4</text>
<line x1="550.40" y1="78.50" x2="552.10" y2="78.50" stroke="#333" stroke-width="0.6"/>
<text x="549.70" y="80.10" font-size="4.6" text-anchor="end" fill="#4d4d4d">0.2</text>
<line x1="550.40" y1="96.80" x2="552.10" y2="96.80" stroke="#333" stroke-width="0.6"/>
<text x="549.70" y="98.40" font-size="4.6" text-anchor="end" fill="#4d4d4d">0.0</text>
<line x1="558.00" y1="99.20" x2="558.00" y2="100.90" stroke="#333" stroke-width="0.6"/>
<text x="558.00" y="105.60" font-size="4.6" text-anchor="middle" fill="#4d4d4d">0</text>
<line x1="582.60" y1="99.20" x2="582.60" y2="100.90" stroke="#333" stroke-width="0.6"/>
<text x="582.60" y="105.60" font-size="4.6" text-anchor="middle" fill="#4d4d4d">50</text>
<line x1="607.20" y1="99.20" x2="607.20" y2="100.90" stroke="#333" stroke-width="0.6"/>
<text x="607.20" y="105.60" font-size="4.6" text-anchor="middle" fill="#4d4d4d">100</text>
<line x1="631.80" y1="99.20" x2="631.80" y2="100.90" stroke="#333" stroke-width="0.6"/>
<text x="631.80" y="105.60" font-size="4.6" text-anchor="middle" fill="#4d4d4d">150</text>
<line x1="656.40" y1="99.20" x2="656.40" y2="100.90" stroke="#333" stroke-width="0.6"/>
<text x="656.40" y="105.60" font-size="4.6" text-anchor="middle" fill="#4d4d4d">200</text>
<line x1="681.00" y1="99.20" x2="681.00" y2="100.90" stroke="#333" stroke-width="0.6"/>
<text x="681.00" y="105.60" font-size="4.6" text-anchor="middle" fill="#4d4d4d">250</text>
<text x="617.30" y="111.20" font-size="6" text-anchor="middle" font-weight="700">Time</text>
<text x="530.40" y="67.80" font-size="5.6" text-anchor="middle" font-weight="700" transform="rotate(-90 530.40 67.80)" textLength="54.8" lengthAdjust="spacingAndGlyphs">Cumulative Incidence</text>
<polygon points="558.00,96.30 562.70,89.10 569.10,79.50 572.30,75.80 575.50,71.10 578.60,69.50 581.80,68.40 582.30,63.60 585.00,62.40 613.60,62.40 614.20,55.20 671.00,55.20 671.00,73.90 614.20,73.90 613.60,76.40 585.00,76.90 581.80,79.50 575.50,84.80 569.10,89.10 563.80,93.90 558.00,97.00" fill="#a9d9a3" fill-opacity="0.9"/>
<polygon points="558.00,94.80 563.80,89.40 569.10,85.11 574.40,81.83 579.70,79.64 585.00,77.95 592.40,76.73 603.00,76.05 613.60,75.27 620.00,74.67 640.00,73.83 660.00,73.50 677.30,73.21 677.30,80.59 660.00,80.30 640.00,79.97 620.00,80.13 613.60,80.53 603.00,80.95 592.40,81.27 585.00,82.25 579.70,83.76 574.40,85.77 569.10,88.89 563.80,93.00 558.00,98.20" fill="#fdbf8a" fill-opacity="0.75"/>
<polyline points="558.00,96.50 563.80,91.20 569.10,87.00 574.40,83.80 579.70,81.70 585.00,80.10 592.40,79.00 603.00,78.50 613.60,77.90 620.00,77.40 640.00,76.90 660.00,76.90 677.30,76.90" fill="none" stroke="#f0862a" stroke-width="0.9"/>
<polyline points="558.00,96.50 563.80,90.10 569.10,84.80 572.30,81.70 575.50,78.50 578.60,76.90 581.30,75.80 582.30,74.80 582.90,72.60 584.50,71.10 613.60,71.10 614.20,66.30 671.00,66.30 671.00,58.00" fill="none" stroke="#2e9a2e" stroke-width="0.9"/>
<text x="623.60" y="87.80" font-size="6.25">p &lt; 0.024</text>
<text x="395.70" y="121.20" font-size="6.6" textLength="17.5" lengthAdjust="spacingAndGlyphs">N Risk</text>
<line x1="395.70" y1="124.90" x2="395.70" y2="148.40" stroke="#333" stroke-width="0.8"/>
<line x1="395.70" y1="148.20" x2="524.70" y2="148.20" stroke="#333" stroke-width="0.8"/>
<text x="384.50" y="132.80" font-size="4.6">WT</text>
<text x="384.50" y="143.50" font-size="4.6">Mut</text>
<text x="406.70" y="132.80" font-size="4.5" text-anchor="middle">1214</text>
<text x="424.40" y="132.80" font-size="4.5" text-anchor="middle">682</text>
<text x="442.90" y="132.80" font-size="4.5" text-anchor="middle">383</text>
<text x="461.10" y="132.80" font-size="4.5" text-anchor="middle">170</text>
<text x="479.10" y="132.80" font-size="4.5" text-anchor="middle">57</text>
<text x="496.90" y="132.80" font-size="4.5" text-anchor="middle">10</text>
<text x="514.90" y="132.80" font-size="4.5" text-anchor="middle">4</text>
<text x="406.70" y="143.50" font-size="4.5" text-anchor="middle">201</text>
<text x="424.40" y="143.50" font-size="4.5" text-anchor="middle">110</text>
<text x="442.90" y="143.50" font-size="4.5" text-anchor="middle">54</text>
<text x="461.10" y="143.50" font-size="4.5" text-anchor="middle">15</text>
<text x="479.10" y="143.50" font-size="4.5" text-anchor="middle">3</text>
<text x="496.90" y="143.50" font-size="4.5" text-anchor="middle">2</text>
<line x1="406.70" y1="148.20" x2="406.70" y2="149.60" stroke="#333" stroke-width="0.6"/>
<text x="406.70" y="153.80" font-size="4.5" text-anchor="middle" fill="#4d4d4d">0</text>
<line x1="424.40" y1="148.20" x2="424.40" y2="149.60" stroke="#333" stroke-width="0.6"/>
<text x="424.40" y="153.80" font-size="4.5" text-anchor="middle" fill="#4d4d4d">25</text>
<line x1="442.90" y1="148.20" x2="442.90" y2="149.60" stroke="#333" stroke-width="0.6"/>
<text x="442.90" y="153.80" font-size="4.5" text-anchor="middle" fill="#4d4d4d">50</text>
<line x1="461.10" y1="148.20" x2="461.10" y2="149.60" stroke="#333" stroke-width="0.6"/>
<text x="461.10" y="153.80" font-size="4.5" text-anchor="middle" fill="#4d4d4d">100</text>
<line x1="479.10" y1="148.20" x2="479.10" y2="149.60" stroke="#333" stroke-width="0.6"/>
<text x="479.10" y="153.80" font-size="4.5" text-anchor="middle" fill="#4d4d4d">150</text>
<line x1="496.90" y1="148.20" x2="496.90" y2="149.60" stroke="#333" stroke-width="0.6"/>
<text x="496.90" y="153.80" font-size="4.5" text-anchor="middle" fill="#4d4d4d">200</text>
<line x1="514.90" y1="148.20" x2="514.90" y2="149.60" stroke="#333" stroke-width="0.6"/>
<text x="514.90" y="153.80" font-size="4.5" text-anchor="middle" fill="#4d4d4d">250</text>
<text x="461.10" y="160.40" font-size="6" text-anchor="middle" font-weight="700">Time</text>
<text x="551.90" y="121.90" font-size="6.6" textLength="23.3" lengthAdjust="spacingAndGlyphs">N Events</text>
<line x1="552.30" y1="126.00" x2="552.30" y2="149.10" stroke="#333" stroke-width="0.8"/>
<line x1="552.30" y1="148.90" x2="682.00" y2="148.90" stroke="#333" stroke-width="0.8"/>
<text x="540.20" y="133.90" font-size="4.6">WT</text>
<text x="540.20" y="144.50" font-size="4.6">Mut</text>
<text x="562.90" y="133.90" font-size="4.5" text-anchor="middle">3</text>
<text x="581.10" y="133.90" font-size="4.5" text-anchor="middle">132</text>
<text x="599.30" y="133.90" font-size="4.5" text-anchor="middle">44</text>
<text x="617.50" y="133.90" font-size="4.5" text-anchor="middle">10</text>
<text x="635.50" y="133.90" font-size="4.5" text-anchor="middle">8</text>
<text x="653.70" y="133.90" font-size="4.5" text-anchor="middle">8</text>
<text x="672.20" y="133.90" font-size="4.5" text-anchor="middle">1</text>
<text x="562.90" y="144.50" font-size="4.5" text-anchor="middle">8</text>
<text x="581.10" y="144.50" font-size="4.5" text-anchor="middle">22</text>
<text x="599.30" y="144.50" font-size="4.5" text-anchor="middle">15</text>
<text x="617.50" y="144.50" font-size="4.5" text-anchor="middle">1</text>
<text x="635.50" y="144.50" font-size="4.5" text-anchor="middle">2</text>
<text x="653.70" y="144.50" font-size="4.5" text-anchor="middle">8</text>
<line x1="562.90" y1="148.90" x2="562.90" y2="150.30" stroke="#333" stroke-width="0.6"/>
<text x="562.90" y="155.00" font-size="4.5" text-anchor="middle" fill="#4d4d4d">0</text>
<line x1="581.10" y1="148.90" x2="581.10" y2="150.30" stroke="#333" stroke-width="0.6"/>
<text x="581.10" y="155.00" font-size="4.5" text-anchor="middle" fill="#4d4d4d">25</text>
<line x1="599.30" y1="148.90" x2="599.30" y2="150.30" stroke="#333" stroke-width="0.6"/>
<text x="599.30" y="155.00" font-size="4.5" text-anchor="middle" fill="#4d4d4d">50</text>
<line x1="617.50" y1="148.90" x2="617.50" y2="150.30" stroke="#333" stroke-width="0.6"/>
<text x="617.50" y="155.00" font-size="4.5" text-anchor="middle" fill="#4d4d4d">100</text>
<line x1="635.50" y1="148.90" x2="635.50" y2="150.30" stroke="#333" stroke-width="0.6"/>
<text x="635.50" y="155.00" font-size="4.5" text-anchor="middle" fill="#4d4d4d">150</text>
<line x1="653.70" y1="148.90" x2="653.70" y2="150.30" stroke="#333" stroke-width="0.6"/>
<text x="653.70" y="155.00" font-size="4.5" text-anchor="middle" fill="#4d4d4d">200</text>
<line x1="672.20" y1="148.90" x2="672.20" y2="150.30" stroke="#333" stroke-width="0.6"/>
<text x="672.20" y="155.00" font-size="4.5" text-anchor="middle" fill="#4d4d4d">250</text>
<text x="617.50" y="160.40" font-size="6" text-anchor="middle" font-weight="700">Time</text>
<text x="2.60" y="211.70" font-size="8.0" font-weight="700" textLength="7.6" lengthAdjust="spacingAndGlyphs">D)</text>
<line x1="47.30" y1="248.10" x2="47.30" y2="354.60" stroke="#555" stroke-width="0.9"/>
<line x1="44.00" y1="248.10" x2="47.30" y2="248.10" stroke="#555" stroke-width="0.9"/>
<text x="42.20" y="250.90" font-size="7.8" text-anchor="end" font-weight="700">40</text>
<line x1="44.00" y1="274.70" x2="47.30" y2="274.70" stroke="#555" stroke-width="0.9"/>
<text x="42.20" y="277.50" font-size="7.8" text-anchor="end" font-weight="700">30</text>
<line x1="44.00" y1="301.40" x2="47.30" y2="301.40" stroke="#555" stroke-width="0.9"/>
<text x="42.20" y="304.20" font-size="7.8" text-anchor="end" font-weight="700">20</text>
<line x1="44.00" y1="328.00" x2="47.30" y2="328.00" stroke="#555" stroke-width="0.9"/>
<text x="42.20" y="330.80" font-size="7.8" text-anchor="end" font-weight="700">10</text>
<line x1="44.00" y1="354.60" x2="47.30" y2="354.60" stroke="#555" stroke-width="0.9"/>
<text x="42.20" y="357.40" font-size="7.8" text-anchor="end" font-weight="700">0</text>
<line x1="47.30" y1="354.60" x2="119.10" y2="354.60" stroke="#555" stroke-width="0.9"/>
<rect x="58.20" y="299.80" width="19.80" height="54.80" fill="#0a7590"/>
<rect x="88.80" y="331.00" width="20.20" height="23.60" fill="#d6d6d6"/>
<line x1="68.10" y1="299.80" x2="68.10" y2="261.00" stroke="#7fbcd2" stroke-width="1.0"/>
<line x1="63.40" y1="261.00" x2="72.70" y2="261.00" stroke="#7fbcd2" stroke-width="1.1"/>
<line x1="98.60" y1="331.00" x2="98.60" y2="314.70" stroke="#8f8f8f" stroke-width="1.0"/>
<line x1="92.80" y1="314.70" x2="103.70" y2="314.70" stroke="#8f8f8f" stroke-width="1.1"/>
<path d="M68.1,254.5V248.1H98.6V307.7" stroke="#000" fill="none" stroke-width="1.2"/>
<text x="76.20" y="245.25" font-size="9.8" text-anchor="middle" font-weight="700" font-family="DejaVu Sans">*</text>
<text x="83.20" y="245.25" font-size="9.8" text-anchor="middle" font-weight="700" font-family="DejaVu Sans">*</text>
<text x="89.90" y="245.25" font-size="9.8" text-anchor="middle" font-weight="700" font-family="DejaVu Sans">*</text>
<line x1="68.30" y1="354.60" x2="68.30" y2="358.50" stroke="#555" stroke-width="0.9"/>
<line x1="98.60" y1="354.60" x2="98.60" y2="358.50" stroke="#555" stroke-width="0.9"/>
<text x="68.30" y="371.80" font-size="6.5" text-anchor="middle" fill="#333">GL+R525</text>
<text x="89.00" y="371.80" font-size="6.5" fill="#333">GL+Other</text>
<text x="89.00" y="379.50" font-size="6.5" fill="#333"><tspan font-style="italic">DDX41</tspan>somatic</text>
<text x="16.30" y="306.00" font-size="7.7" text-anchor="middle" font-weight="700" transform="rotate(-90 16.30 306.00)">MDS and AML BM blast %</text>
<text x="133.10" y="212.90" font-size="8.2" font-weight="700" textLength="7.0" lengthAdjust="spacingAndGlyphs">E)</text>
<text x="262.70" y="213.90" font-size="7.5" text-anchor="middle" font-weight="700">MDS Overall Survival</text>
<line x1="156.50" y1="240.90" x2="156.50" y2="356.40" stroke="#333" stroke-width="0.9"/>
<line x1="156.50" y1="356.20" x2="408.20" y2="356.20" stroke="#333" stroke-width="0.9"/>
<line x1="154.60" y1="246.20" x2="156.50" y2="246.20" stroke="#333" stroke-width="0.7"/>
<text x="153.90" y="248.20" font-size="5.65" text-anchor="end" fill="#4d4d4d">1.00</text>
<line x1="154.60" y1="272.40" x2="156.50" y2="272.40" stroke="#333" stroke-width="0.7"/>
<text x="153.90" y="274.40" font-size="5.65" text-anchor="end" fill="#4d4d4d">0.75</text>
<line x1="154.60" y1="298.60" x2="156.50" y2="298.60" stroke="#333" stroke-width="0.7"/>
<text x="153.90" y="300.60" font-size="5.65" text-anchor="end" fill="#4d4d4d">0.50</text>
<line x1="154.60" y1="324.80" x2="156.50" y2="324.80" stroke="#333" stroke-width="0.7"/>
<text x="153.90" y="326.80" font-size="5.65" text-anchor="end" fill="#4d4d4d">0.25</text>
<line x1="154.60" y1="351.00" x2="156.50" y2="351.00" stroke="#333" stroke-width="0.7"/>
<text x="153.90" y="353.00" font-size="5.65" text-anchor="end" fill="#4d4d4d">0.00</text>
<line x1="168.50" y1="356.20" x2="168.50" y2="358.00" stroke="#333" stroke-width="0.7"/>
<text x="168.50" y="363.00" font-size="5.65" text-anchor="middle" fill="#4d4d4d">0</text>
<line x1="214.05" y1="356.20" x2="214.05" y2="358.00" stroke="#333" stroke-width="0.7"/>
<text x="214.05" y="363.00" font-size="5.65" text-anchor="middle" fill="#4d4d4d">50</text>
<line x1="259.60" y1="356.20" x2="259.60" y2="358.00" stroke="#333" stroke-width="0.7"/>
<text x="259.60" y="363.00" font-size="5.65" text-anchor="middle" fill="#4d4d4d">100</text>
<line x1="305.15" y1="356.20" x2="305.15" y2="358.00" stroke="#333" stroke-width="0.7"/>
<text x="305.15" y="363.00" font-size="5.65" text-anchor="middle" fill="#4d4d4d">150</text>
<line x1="350.70" y1="356.20" x2="350.70" y2="358.00" stroke="#333" stroke-width="0.7"/>
<text x="350.70" y="363.00" font-size="5.65" text-anchor="middle" fill="#4d4d4d">200</text>
<line x1="396.25" y1="356.20" x2="396.25" y2="358.00" stroke="#333" stroke-width="0.7"/>
<text x="396.25" y="363.00" font-size="5.65" text-anchor="middle" fill="#4d4d4d">250</text>
<text x="282.00" y="369.80" font-size="6.5" text-anchor="middle" fill="#222">Time</text>
<text x="139.60" y="298.70" font-size="6.9" text-anchor="middle" fill="#222" transform="rotate(-90 139.60 298.70)">Survival probability</text>
<text x="172.30" y="332.70" font-size="6.7" fill="#222">p &lt; 0.0001</text>
<polygon points="168.00,244.20 175.90,246.40 185.50,248.00 190.80,251.70 202.40,253.80 209.80,255.90 230.00,256.40 240.00,258.00 251.00,258.00 251.00,260.20 256.00,260.20 256.00,263.10 259.70,263.10 259.70,266.80 260.40,266.80 260.40,271.20 288.90,271.20 288.90,276.30 326.90,276.30 326.90,280.00 377.90,280.00 377.90,287.30 387.70,287.30 387.70,348.80 377.90,348.80 377.90,336.40 326.70,336.40 326.70,325.90 289.00,325.90 289.00,318.00 261.80,309.70 256.00,300.00 256.00,296.90 250.70,296.90 250.70,288.20 228.70,288.20 228.70,282.60 216.50,282.60 216.50,281.60 210.30,281.60 210.30,278.00 204.20,278.00 200.00,273.00 195.00,268.30 191.30,263.70 172.70,250.60 168.00,246.90" fill="#f7a325" fill-opacity="0.18"/>
<polygon points="168.00,245.50 175.00,249.00 182.00,255.00 188.00,262.00 195.00,271.00 200.00,277.00 205.00,283.00 210.00,289.00 217.00,294.00 225.80,299.80 243.80,299.80 243.80,349.70 230.00,349.70 230.00,346.50 224.70,341.20 220.40,334.80 217.30,323.20 212.00,316.80 205.60,309.40 200.30,301.00 196.00,296.00 191.80,290.00 188.60,284.50 185.50,279.00 181.20,272.00 175.90,265.00 171.70,258.00 168.00,246.40" fill="#8a8a8a" fill-opacity="0.19"/>
<polygon points="168.00,245.50 180.00,253.00 190.00,262.00 200.00,272.00 210.00,283.00 218.00,291.00 225.80,299.80 256.20,299.80 256.20,308.00 281.20,308.00 281.20,284.40 293.80,284.40 293.80,347.40 281.20,347.40 281.20,338.00 256.20,338.00 243.80,338.00 233.00,336.00 226.00,330.00 220.00,322.00 214.00,314.00 206.00,305.00 198.00,295.00 190.00,284.00 182.00,272.00 174.00,259.00 168.00,248.00" fill="#8a8a8a" fill-opacity="0.12"/>
<polygon points="168.00,245.00 180.00,250.00 190.00,257.00 197.00,266.00 203.00,275.00 206.00,280.00 211.00,282.00 216.50,283.50 220.50,288.00 225.00,295.00 229.00,300.00 243.80,302.00 256.20,305.00 281.80,305.00 284.00,310.60 315.50,310.60 315.50,346.50 294.20,346.50 284.00,343.00 281.80,341.20 243.80,341.20 233.20,341.20 228.00,334.00 224.00,325.00 220.00,318.00 215.00,311.00 210.00,305.00 205.00,298.00 200.00,290.00 195.00,282.00 190.00,274.00 184.00,266.00 178.00,259.00 172.00,252.00 168.00,247.00" fill="#d27ee0" fill-opacity="0.14"/>
<polyline points="168.50,246.40 171.70,246.40 171.70,251.70 174.80,251.70 174.80,257.00 178.60,257.00 178.60,261.20 182.30,261.20 182.30,262.30 185.50,262.30 185.50,265.50 187.60,265.50 187.60,268.60 189.70,268.60 189.70,272.90 191.80,272.90 191.80,275.00 192.90,275.00 192.90,278.20 195.00,278.20 195.00,280.30 196.10,280.30 196.10,283.50 198.20,283.50 198.20,286.70 200.30,286.70 200.30,289.80 202.40,289.80 202.40,294.10 203.50,294.10 203.50,298.80 204.50,298.80 204.50,303.00 208.80,303.00 212.00,303.00 212.00,305.10 214.10,305.10 214.10,311.50 216.20,311.50 216.20,312.60 218.30,312.60 218.30,315.80 219.40,315.80 219.40,320.00 220.40,320.00 220.40,322.10 226.80,322.10 226.80,323.20 226.80,330.60 227.90,330.60 227.90,337.00 230.50,337.00 230.50,344.40 243.80,344.40" fill="none" stroke="#7d7d7d" stroke-width="1.0"/>
<polyline points="168.00,245.80 168.50,245.80 168.50,248.50 170.60,248.50 170.60,252.70 173.80,252.70 173.80,257.00 177.00,257.00 177.00,260.10 180.10,260.10 180.10,262.30 182.80,262.30 182.80,263.30 184.40,263.30 184.40,266.50 186.50,266.50 186.50,270.80 187.60,270.80 187.60,275.00 188.60,275.00 188.60,279.20 190.80,279.20 190.80,282.40 193.90,282.40 193.90,284.50 195.00,284.50 195.00,286.70 197.10,286.70 197.10,288.80 198.20,288.80 198.20,290.90 200.30,290.90 200.30,294.10 203.50,294.10 203.50,299.40 205.60,299.40 205.60,302.60 209.80,302.60 209.80,303.60 213.00,303.60 213.00,304.70 215.10,304.70 215.10,306.00 216.20,306.00 216.20,308.90 218.30,308.90 218.30,310.50 219.40,310.50 219.40,320.00 281.50,320.00 281.50,335.70 294.30,335.70 294.30,350.90" fill="none" stroke="#666666" stroke-width="1.0"/>
<polyline points="168.00,244.80 170.60,244.80 170.60,245.80 174.80,245.80 174.80,250.10 179.10,250.10 179.10,253.80 184.40,253.80 184.40,258.00 188.10,258.00 188.10,261.20 189.20,261.20 189.20,262.80 191.30,262.80 191.30,265.50 193.40,265.50 193.40,267.60 195.00,267.60 195.00,270.80 196.60,270.80 196.60,273.90 197.60,273.90 197.60,277.60 199.20,277.60 199.20,282.40 201.40,282.40 201.40,285.60 203.50,285.60 203.50,288.80 204.50,288.80 204.50,290.30 205.60,290.30 205.60,294.50 207.70,294.50 207.70,297.70 210.90,297.70 210.90,298.80 212.00,298.80 212.00,300.90 215.10,300.90 215.10,303.00 217.30,303.00 217.30,307.30 218.30,307.30 218.30,309.40 223.60,309.40 224.70,309.40 224.70,312.60 225.80,312.60 225.80,315.80 226.80,315.80 226.80,321.10 228.90,321.10 228.90,322.10 231.00,322.10 231.00,325.30 233.70,325.30 233.70,330.60 281.80,330.60 284.00,330.60 284.00,332.80 284.00,337.20 315.50,337.20" fill="none" stroke="#e46ee6" stroke-width="1.1"/>
<polyline points="168.00,244.80 172.70,248.50 178.00,251.70 182.30,253.80 185.50,255.40 188.60,257.50 190.80,259.10 190.80,262.80 202.40,262.80 202.40,266.00 209.30,266.00 209.30,269.70 228.50,269.70 228.50,273.80 250.40,273.80 250.40,280.20 255.50,280.20 255.50,285.00 256.50,285.00 256.50,290.00 258.00,290.00 258.00,293.40 259.90,293.40 259.90,300.70 289.00,300.70 289.00,307.60 326.70,307.60 326.70,318.20 377.90,318.20 377.90,340.40 387.70,340.40" fill="none" stroke="#f59c16" stroke-width="1.2"/>
<line x1="183.00" y1="252.60" x2="183.00" y2="255.20" stroke="#f59c16" stroke-width="0.8"/>
<line x1="193.00" y1="261.50" x2="193.00" y2="264.10" stroke="#f59c16" stroke-width="0.8"/>
<line x1="196.00" y1="261.50" x2="196.00" y2="264.10" stroke="#f59c16" stroke-width="0.8"/>
<line x1="199.50" y1="261.50" x2="199.50" y2="264.10" stroke="#f59c16" stroke-width="0.8"/>
<line x1="205.00" y1="264.70" x2="205.00" y2="267.30" stroke="#f59c16" stroke-width="0.8"/>
<line x1="213.00" y1="268.40" x2="213.00" y2="271.00" stroke="#f59c16" stroke-width="0.8"/>
<line x1="216.00" y1="268.40" x2="216.00" y2="271.00" stroke="#f59c16" stroke-width="0.8"/>
<line x1="219.00" y1="268.40" x2="219.00" y2="271.00" stroke="#f59c16" stroke-width="0.8"/>
<line x1="222.00" y1="268.40" x2="222.00" y2="271.00" stroke="#f59c16" stroke-width="0.8"/>
<line x1="225.00" y1="268.40" x2="225.00" y2="271.00" stroke="#f59c16" stroke-width="0.8"/>
<line x1="234.00" y1="272.50" x2="234.00" y2="275.10" stroke="#f59c16" stroke-width="0.8"/>
<line x1="238.00" y1="272.50" x2="238.00" y2="275.10" stroke="#f59c16" stroke-width="0.8"/>
<line x1="241.00" y1="272.50" x2="241.00" y2="275.10" stroke="#f59c16" stroke-width="0.8"/>
<line x1="244.00" y1="272.50" x2="244.00" y2="275.10" stroke="#f59c16" stroke-width="0.8"/>
<line x1="247.00" y1="272.50" x2="247.00" y2="275.10" stroke="#f59c16" stroke-width="0.8"/>
<line x1="296.00" y1="306.30" x2="296.00" y2="308.90" stroke="#f59c16" stroke-width="0.8"/>
<line x1="302.00" y1="306.30" x2="302.00" y2="308.90" stroke="#f59c16" stroke-width="0.8"/>
<line x1="387.70" y1="339.10" x2="387.70" y2="341.70" stroke="#f59c16" stroke-width="0.8"/>
<line x1="260.40" y1="318.70" x2="260.40" y2="321.30" stroke="#666666" stroke-width="0.8"/>
<line x1="271.10" y1="318.70" x2="271.10" y2="321.30" stroke="#666666" stroke-width="0.8"/>
<line x1="274.20" y1="318.70" x2="274.20" y2="321.30" stroke="#666666" stroke-width="0.8"/>
<line x1="243.80" y1="343.10" x2="243.80" y2="345.70" stroke="#7d7d7d" stroke-width="0.8"/>
<line x1="246.60" y1="329.30" x2="246.60" y2="331.90" stroke="#e46ee6" stroke-width="0.8"/>
<line x1="289.50" y1="335.90" x2="289.50" y2="338.50" stroke="#e46ee6" stroke-width="0.8"/>
<line x1="315.50" y1="335.90" x2="315.50" y2="338.50" stroke="#e46ee6" stroke-width="0.8"/>
<text x="217.20" y="377.60" font-size="6.5" font-weight="700" fill="#222" textLength="19.6" lengthAdjust="spacingAndGlyphs">N Risk</text>
<line x1="220.70" y1="387.70" x2="220.70" y2="408.70" stroke="#333" stroke-width="0.9"/>
<line x1="220.70" y1="408.60" x2="406.90" y2="408.60" stroke="#333" stroke-width="0.9"/>
<text x="217.20" y="390.30" font-size="5.5" text-anchor="end" fill="#9a9a9a">GL Non-Truncating</text>
<text x="217.20" y="395.70" font-size="5.5" text-anchor="end" font-weight="700" fill="#505050">GL Truncating</text>
<text x="217.20" y="401.40" font-size="5.5" text-anchor="end" fill="#f3a838">GL+Other <tspan font-style="italic">DDX41</tspan> somatic</text>
<text x="217.20" y="407.30" font-size="5.5" text-anchor="end" fill="#cc3fd6">GL+R525</text>
<text x="229.60" y="391.80" font-size="6.2" text-anchor="middle" fill="#2a2a2a">77</text>
<text x="263.60" y="391.80" font-size="6.2" text-anchor="middle" fill="#2a2a2a">13</text>
<text x="297.60" y="391.80" font-size="6.2" text-anchor="middle" fill="#2a2a2a">5</text>
<text x="331.60" y="391.80" font-size="6.2" text-anchor="middle" fill="#2a2a2a">0</text>
<text x="365.60" y="391.80" font-size="6.2" text-anchor="middle" fill="#2a2a2a">0</text>
<text x="399.60" y="391.80" font-size="6.2" text-anchor="middle" fill="#2a2a2a">0</text>
<text x="229.60" y="396.80" font-size="6.2" text-anchor="middle" fill="#2a2a2a">43</text>
<text x="263.60" y="396.80" font-size="6.2" text-anchor="middle" fill="#2a2a2a">9</text>
<text x="297.60" y="396.80" font-size="6.2" text-anchor="middle" fill="#2a2a2a">0</text>
<text x="331.60" y="396.80" font-size="6.2" text-anchor="middle" fill="#2a2a2a">0</text>
<text x="365.60" y="396.80" font-size="6.2" text-anchor="middle" fill="#2a2a2a">0</text>
<text x="399.60" y="396.80" font-size="6.2" text-anchor="middle" fill="#2a2a2a">0</text>
<text x="229.60" y="401.80" font-size="6.2" text-anchor="middle" fill="#2a2a2a">69</text>
<text x="263.60" y="401.80" font-size="6.2" text-anchor="middle" fill="#2a2a2a">23</text>
<text x="297.60" y="401.80" font-size="6.2" text-anchor="middle" fill="#2a2a2a">8</text>
<text x="331.60" y="401.80" font-size="6.2" text-anchor="middle" fill="#2a2a2a">4</text>
<text x="365.60" y="401.80" font-size="6.2" text-anchor="middle" fill="#2a2a2a">3</text>
<text x="399.60" y="401.80" font-size="6.2" text-anchor="middle" fill="#2a2a2a">0</text>
<text x="229.60" y="407.20" font-size="6.2" text-anchor="middle" fill="#2a2a2a">121</text>
<text x="263.60" y="407.20" font-size="6.2" text-anchor="middle" fill="#2a2a2a">17</text>
<text x="297.60" y="407.20" font-size="6.2" text-anchor="middle" fill="#2a2a2a">3</text>
<text x="331.60" y="407.20" font-size="6.2" text-anchor="middle" fill="#2a2a2a">1</text>
<text x="365.60" y="407.20" font-size="6.2" text-anchor="middle" fill="#2a2a2a">0</text>
<text x="399.60" y="407.20" font-size="6.2" text-anchor="middle" fill="#2a2a2a">0</text>
<line x1="229.60" y1="408.60" x2="229.60" y2="410.20" stroke="#333" stroke-width="0.7"/>
<text x="229.60" y="415.60" font-size="5.9" text-anchor="middle" fill="#4d4d4d">0</text>
<line x1="263.60" y1="408.60" x2="263.60" y2="410.20" stroke="#333" stroke-width="0.7"/>
<text x="263.60" y="415.60" font-size="5.9" text-anchor="middle" fill="#4d4d4d">50</text>
<line x1="297.60" y1="408.60" x2="297.60" y2="410.20" stroke="#333" stroke-width="0.7"/>
<text x="297.60" y="415.60" font-size="5.9" text-anchor="middle" fill="#4d4d4d">100</text>
<line x1="331.60" y1="408.60" x2="331.60" y2="410.20" stroke="#333" stroke-width="0.7"/>
<text x="331.60" y="415.60" font-size="5.9" text-anchor="middle" fill="#4d4d4d">150</text>
<line x1="365.60" y1="408.60" x2="365.60" y2="410.20" stroke="#333" stroke-width="0.7"/>
<text x="365.60" y="415.60" font-size="5.9" text-anchor="middle" fill="#4d4d4d">200</text>
<line x1="399.60" y1="408.60" x2="399.60" y2="410.20" stroke="#333" stroke-width="0.7"/>
<text x="399.60" y="415.60" font-size="5.9" text-anchor="middle" fill="#4d4d4d">250</text>
<text x="314.30" y="423.00" font-size="6.5" text-anchor="middle" fill="#222">Time</text>
<text x="417.90" y="214.90" font-size="8.2" font-weight="700" textLength="6.5" lengthAdjust="spacingAndGlyphs">F)</text>
<text x="570.00" y="216.40" font-size="7.5" text-anchor="middle" font-weight="700">MDS to AML evolution</text>
<line x1="493.60" y1="228.30" x2="493.60" y2="341.60" stroke="#333" stroke-width="0.9"/>
<line x1="493.60" y1="341.40" x2="682.00" y2="341.40" stroke="#333" stroke-width="0.9"/>
<line x1="491.80" y1="233.70" x2="493.60" y2="233.70" stroke="#333" stroke-width="0.7"/>
<text x="491.20" y="235.60" font-size="5.4" text-anchor="end" fill="#4d4d4d">1.00</text>
<line x1="491.80" y1="259.50" x2="493.60" y2="259.50" stroke="#333" stroke-width="0.7"/>
<text x="491.20" y="261.40" font-size="5.4" text-anchor="end" fill="#4d4d4d">0.75</text>
<line x1="491.80" y1="285.40" x2="493.60" y2="285.40" stroke="#333" stroke-width="0.7"/>
<text x="491.20" y="287.30" font-size="5.4" text-anchor="end" fill="#4d4d4d">0.50</text>
<line x1="491.80" y1="310.80" x2="493.60" y2="310.80" stroke="#333" stroke-width="0.7"/>
<text x="491.20" y="312.70" font-size="5.4" text-anchor="end" fill="#4d4d4d">0.25</text>
<line x1="491.80" y1="336.30" x2="493.60" y2="336.30" stroke="#333" stroke-width="0.7"/>
<text x="491.20" y="338.20" font-size="5.4" text-anchor="end" fill="#4d4d4d">0.00</text>
<line x1="500.90" y1="341.40" x2="500.90" y2="343.10" stroke="#333" stroke-width="0.7"/>
<text x="500.90" y="347.60" font-size="5.2" text-anchor="middle" fill="#4d4d4d">0</text>
<line x1="538.33" y1="341.40" x2="538.33" y2="343.10" stroke="#333" stroke-width="0.7"/>
<text x="538.33" y="347.60" font-size="5.2" text-anchor="middle" fill="#4d4d4d">50</text>
<line x1="575.76" y1="341.40" x2="575.76" y2="343.10" stroke="#333" stroke-width="0.7"/>
<text x="575.76" y="347.60" font-size="5.2" text-anchor="middle" fill="#4d4d4d">100</text>
<line x1="613.19" y1="341.40" x2="613.19" y2="343.10" stroke="#333" stroke-width="0.7"/>
<text x="613.19" y="347.60" font-size="5.2" text-anchor="middle" fill="#4d4d4d">150</text>
<line x1="650.62" y1="341.40" x2="650.62" y2="343.10" stroke="#333" stroke-width="0.7"/>
<text x="650.62" y="347.60" font-size="5.2" text-anchor="middle" fill="#4d4d4d">200</text>
<text x="587.30" y="354.40" font-size="6" text-anchor="middle" font-weight="700">Time</text>
<text x="470.20" y="289.80" font-size="7" text-anchor="middle" fill="#222" transform="rotate(-90 470.20 289.80)">CI of leukemic evolution</text>
<text x="641.80" y="335.00" font-size="5.9" fill="#222">p &lt; 0.0001</text>
<polygon points="586.00,234.10 673.00,234.10 673.00,328.00 586.00,328.00" fill="#7b45bd" fill-opacity="0.2"/>
<polygon points="532.70,283.30 586.00,283.30 586.00,335.90 532.70,335.90" fill="#7b45bd" fill-opacity="0.2"/>
<polygon points="530.40,279.00 573.30,279.00 573.30,335.40 530.40,335.40" fill="#7fae58" fill-opacity="0.22"/>
<polygon points="503.00,333.00 503.00,311.50 506.00,311.50 506.00,307.00 510.00,307.00 510.00,304.00 513.60,304.00 513.60,301.70 516.70,301.70 516.70,296.00 540.90,296.00 540.90,273.20 596.40,273.20 596.40,321.00 540.90,321.00 540.90,332.00 504.20,332.00" fill="#f5ad3a" fill-opacity="0.22"/>
<polygon points="502.40,312.00 506.00,312.00 506.00,301.40 509.90,301.40 509.90,297.40 512.80,297.40 512.80,286.60 515.50,286.60 515.50,280.80 518.40,280.80 518.40,275.80 521.30,275.80 521.30,263.30 522.20,263.30 522.20,255.80 524.70,255.80 524.70,250.00 525.50,250.00 525.50,241.70 538.80,241.70 538.80,287.70 525.30,287.70 525.30,300.20 522.00,304.70 520.50,310.00 517.80,317.60 514.40,325.20 509.80,330.50 505.00,333.50 502.40,333.50" fill="#ee3aee" fill-opacity="0.2"/>
<polyline points="505.50,336.30 530.40,336.30 530.40,327.70 573.30,327.70" fill="none" stroke="#4f9a4a" stroke-width="0.9"/>
<polyline points="505.50,336.30 532.70,336.30 532.70,328.60 586.00,328.60 586.00,306.40 673.00,306.40 673.00,285.20" fill="none" stroke="#7b45bd" stroke-width="0.9"/>
<polyline points="504.20,331.00 504.20,329.50 508.20,329.50 508.20,327.70 513.60,327.70 513.60,324.10 516.40,324.10 516.40,319.50 537.30,319.50 537.30,312.60 540.90,312.60 540.90,305.00 596.40,305.00" fill="none" stroke="#e9a03c" stroke-width="0.9"/>
<polyline points="502.40,334.50 502.40,330.50 503.60,330.50 503.60,328.00 506.40,328.00 506.40,320.50 509.10,320.50 509.10,317.70 511.80,317.70 511.80,314.10 513.60,314.10 513.60,308.60 515.50,308.60 515.50,305.00 517.30,305.00 517.30,300.50 520.00,300.50 520.00,295.90 521.80,295.90 521.80,282.50 524.70,282.50 524.70,275.80 525.50,275.80 525.50,268.30 538.80,268.30" fill="none" stroke="#ec3aec" stroke-width="0.9"/>
<text x="493.80" y="365.90" font-size="6.5" font-weight="700" fill="#222" textLength="19.6" lengthAdjust="spacingAndGlyphs">N Risk</text>
<line x1="493.80" y1="370.30" x2="493.80" y2="421.60" stroke="#333" stroke-width="0.9"/>
<line x1="493.80" y1="421.40" x2="681.00" y2="421.40" stroke="#333" stroke-width="0.9"/>
<text x="426.00" y="381.00" font-size="5.7" fill="#e040e0">Truncating+R525</text>
<text x="426.00" y="389.20" font-size="5.7" fill="#7030a8">Truncating+ Other <tspan font-style="italic">DDX41</tspan></text>
<text x="426.00" y="395.50" font-size="5.7" fill="#7030a8">somatic</text>
<text x="426.00" y="404.70" font-size="5.7" fill="#e09428">Nontruncating+R525</text>
<text x="426.00" y="413.30" font-size="5.7" fill="#5f8f5f">Nontruncating+Other</text>
<text x="426.00" y="419.50" font-size="5.7" fill="#5f8f5f"><tspan font-style="italic">DDX41</tspan> somatic</text>
<text x="511.60" y="378.70" font-size="4.6" text-anchor="middle" fill="#111">33</text>
<text x="542.50" y="378.70" font-size="4.6" text-anchor="middle" fill="#111">13</text>
<text x="572.70" y="378.70" font-size="4.6" text-anchor="middle" fill="#111">1</text>
<text x="511.60" y="391.00" font-size="4.6" text-anchor="middle" fill="#111">23</text>
<text x="542.50" y="391.00" font-size="4.6" text-anchor="middle" fill="#111">14</text>
<text x="572.70" y="391.00" font-size="4.6" text-anchor="middle" fill="#111">10</text>
<text x="602.80" y="391.00" font-size="4.6" text-anchor="middle" fill="#111">3</text>
<text x="632.90" y="391.00" font-size="4.6" text-anchor="middle" fill="#111">1</text>
<text x="663.00" y="391.00" font-size="4.6" text-anchor="middle" fill="#111">1</text>
<text x="511.60" y="403.60" font-size="4.6" text-anchor="middle" fill="#111">31</text>
<text x="542.50" y="403.60" font-size="4.6" text-anchor="middle" fill="#111">16</text>
<text x="572.70" y="403.60" font-size="4.6" text-anchor="middle" fill="#111">8</text>
<text x="602.80" y="403.60" font-size="4.6" text-anchor="middle" fill="#111">3</text>
<text x="632.90" y="403.60" font-size="4.6" text-anchor="middle" fill="#111">1</text>
<text x="511.60" y="415.90" font-size="4.6" text-anchor="middle" fill="#111">23</text>
<text x="542.50" y="415.90" font-size="4.6" text-anchor="middle" fill="#111">14</text>
<text x="572.70" y="415.90" font-size="4.6" text-anchor="middle" fill="#111">9</text>
<text x="602.80" y="415.90" font-size="4.6" text-anchor="middle" fill="#111">3</text>
<text x="632.90" y="415.90" font-size="4.6" text-anchor="middle" fill="#111">1</text>
<text x="663.00" y="415.90" font-size="4.6" text-anchor="middle" fill="#111">1</text>
<line x1="511.60" y1="421.40" x2="511.60" y2="422.90" stroke="#333" stroke-width="0.7"/>
<text x="511.60" y="427.90" font-size="4.5" text-anchor="middle" fill="#4d4d4d">0</text>
<line x1="542.50" y1="421.40" x2="542.50" y2="422.90" stroke="#333" stroke-width="0.7"/>
<text x="542.50" y="427.90" font-size="4.5" text-anchor="middle" fill="#4d4d4d">25</text>
<line x1="572.70" y1="421.40" x2="572.70" y2="422.90" stroke="#333" stroke-width="0.7"/>
<text x="572.70" y="427.90" font-size="4.5" text-anchor="middle" fill="#4d4d4d">50</text>
<line x1="602.80" y1="421.40" x2="602.80" y2="422.90" stroke="#333" stroke-width="0.7"/>
<text x="602.80" y="427.90" font-size="4.5" text-anchor="middle" fill="#4d4d4d">100</text>
<line x1="632.90" y1="421.40" x2="632.90" y2="422.90" stroke="#333" stroke-width="0.7"/>
<text x="632.90" y="427.90" font-size="4.5" text-anchor="middle" fill="#4d4d4d">150</text>
<line x1="663.00" y1="421.40" x2="663.00" y2="422.90" stroke="#333" stroke-width="0.7"/>
<text x="663.00" y="427.90" font-size="4.5" text-anchor="middle" fill="#4d4d4d">200</text>
<text x="587.50" y="434.40" font-size="6" text-anchor="middle" font-weight="700">Time</text>
<text x="3.00" y="452.90" font-size="8.2" font-weight="700" textLength="8.2" lengthAdjust="spacingAndGlyphs">G)</text>
<text x="167.70" y="452.20" font-size="7.4" text-anchor="middle" font-weight="700">Overall survival</text>
<text x="513.70" y="452.60" font-size="7.46" text-anchor="middle" font-weight="700">Leukemic progression</text>
<line x1="67.30" y1="470.70" x2="67.30" y2="643.70" stroke="#ebebeb" stroke-width="0.9"/>
<line x1="99.02" y1="470.70" x2="99.02" y2="643.70" stroke="#ebebeb" stroke-width="0.6"/>
<line x1="130.74" y1="470.70" x2="130.74" y2="643.70" stroke="#ebebeb" stroke-width="0.9"/>
<line x1="162.46" y1="470.70" x2="162.46" y2="643.70" stroke="#ebebeb" stroke-width="0.6"/>
<line x1="194.18" y1="470.70" x2="194.18" y2="643.70" stroke="#ebebeb" stroke-width="0.9"/>
<line x1="225.90" y1="470.70" x2="225.90" y2="643.70" stroke="#ebebeb" stroke-width="0.6"/>
<line x1="257.62" y1="470.70" x2="257.62" y2="643.70" stroke="#ebebeb" stroke-width="0.9"/>
<line x1="289.34" y1="470.70" x2="289.34" y2="643.70" stroke="#ebebeb" stroke-width="0.6"/>
<line x1="55.80" y1="487.10" x2="313.40" y2="487.10" stroke="#ebebeb" stroke-width="0.9"/>
<line x1="55.80" y1="515.20" x2="313.40" y2="515.20" stroke="#ebebeb" stroke-width="0.9"/>
<line x1="55.80" y1="543.50" x2="313.40" y2="543.50" stroke="#ebebeb" stroke-width="0.9"/>
<line x1="55.80" y1="571.40" x2="313.40" y2="571.40" stroke="#ebebeb" stroke-width="0.9"/>
<line x1="55.80" y1="599.40" x2="313.40" y2="599.40" stroke="#ebebeb" stroke-width="0.9"/>
<line x1="55.80" y1="627.10" x2="313.40" y2="627.10" stroke="#ebebeb" stroke-width="0.9"/>
<line x1="99.30" y1="470.70" x2="99.30" y2="643.70" stroke="#666" stroke-width="1.5" stroke-dasharray="2.6,3.8" stroke-dashoffset="1.1"/>
<text x="19.30" y="489.20" font-size="6.8" font-weight="700" fill="#404040">Age</text>
<text x="19.30" y="516.90" font-size="6.8" font-weight="700" fill="#404040">Sex</text>
<text x="19.30" y="541.30" font-size="6.8" font-weight="700" fill="#404040">BM</text>
<text x="19.30" y="549.70" font-size="6.8" font-weight="700" fill="#404040">blast %</text>
<text x="19.30" y="571.50" font-size="6.8" font-weight="700" fill="#404040">Non R525</text>
<text x="19.30" y="580.20" font-size="6.8" font-weight="700" fill="#404040">somatic</text>
<text x="19.30" y="602.80" font-size="6.8" font-weight="700" fill="#404040">GL + R525</text>
<text x="19.30" y="629.30" font-size="6.8" font-weight="700" fill="#404040">GL alone</text>
<line x1="106.20" y1="487.10" x2="145.90" y2="487.10" stroke="#222" stroke-width="1.0"/>
<circle cx="122.30" cy="487.10" r="1.6" fill="#000"/>
<text x="122.30" y="483.90" font-size="8.2" text-anchor="middle" fill="#111">(p: 2.23e−03)</text>
<line x1="96.80" y1="515.20" x2="140.20" y2="515.20" stroke="#222" stroke-width="1.0"/>
<circle cx="113.40" cy="515.20" r="1.6" fill="#000"/>
<text x="113.40" y="512.00" font-size="8.2" text-anchor="middle" fill="#111">(p: 1.09e−01)</text>
<line x1="98.60" y1="543.50" x2="100.40" y2="543.50" stroke="#222" stroke-width="1.0"/>
<circle cx="99.50" cy="543.50" r="1.6" fill="#000"/>
<text x="99.50" y="540.30" font-size="8.2" text-anchor="middle" fill="#111">(p: 1.97e−05)</text>
<line x1="104.00" y1="571.20" x2="209.10" y2="571.20" stroke="#222" stroke-width="1.0"/>
<circle cx="139.30" cy="571.20" r="1.6" fill="#000"/>
<text x="139.30" y="568.00" font-size="8.2" text-anchor="middle" fill="#111">(p: 1.82e−02)</text>
<line x1="115.10" y1="599.30" x2="221.50" y2="599.30" stroke="#222" stroke-width="1.0"/>
<circle cx="152.70" cy="599.30" r="1.6" fill="#000"/>
<text x="152.70" y="596.10" font-size="8.2" text-anchor="middle" fill="#111">(p: 8.62e−04)</text>
<line x1="132.90" y1="627.00" x2="271.80" y2="627.00" stroke="#222" stroke-width="1.0"/>
<circle cx="182.90" cy="627.00" r="1.6" fill="#000"/>
<text x="182.90" y="623.80" font-size="8.2" text-anchor="middle" fill="#111">(p: 8.26e−06)</text>
<text x="114.90" y="639.00" font-size="8.2" text-anchor="middle" fill="#3d9be0">[AIC: 1290.843]</text>
<text x="67.30" y="652.70" font-size="6.5" text-anchor="middle" fill="#7a7a7a">0</text>
<text x="130.74" y="652.70" font-size="6.5" text-anchor="middle" fill="#7a7a7a">2</text>
<text x="194.18" y="652.70" font-size="6.5" text-anchor="middle" fill="#7a7a7a">4</text>
<text x="257.62" y="652.70" font-size="6.5" text-anchor="middle" fill="#7a7a7a">6</text>
<text x="168.70" y="657.90" font-size="8.4" text-anchor="middle" fill="#222">log(HR)</text>
<line x1="404.10" y1="466.00" x2="404.10" y2="639.60" stroke="#ebebeb" stroke-width="0.6"/>
<line x1="439.90" y1="466.00" x2="439.90" y2="639.60" stroke="#ebebeb" stroke-width="0.9"/>
<line x1="475.70" y1="466.00" x2="475.70" y2="639.60" stroke="#ebebeb" stroke-width="0.6"/>
<line x1="511.50" y1="466.00" x2="511.50" y2="639.60" stroke="#ebebeb" stroke-width="0.9"/>
<line x1="547.30" y1="466.00" x2="547.30" y2="639.60" stroke="#ebebeb" stroke-width="0.6"/>
<line x1="583.10" y1="466.00" x2="583.10" y2="639.60" stroke="#ebebeb" stroke-width="0.9"/>
<line x1="618.90" y1="466.00" x2="618.90" y2="639.60" stroke="#ebebeb" stroke-width="0.6"/>
<line x1="387.10" y1="485.80" x2="650.00" y2="485.80" stroke="#ebebeb" stroke-width="0.9"/>
<line x1="387.10" y1="518.80" x2="650.00" y2="518.80" stroke="#ebebeb" stroke-width="0.9"/>
<line x1="387.10" y1="553.00" x2="650.00" y2="553.00" stroke="#ebebeb" stroke-width="0.9"/>
<line x1="387.10" y1="586.20" x2="650.00" y2="586.20" stroke="#ebebeb" stroke-width="0.9"/>
<line x1="387.10" y1="619.90" x2="650.00" y2="619.90" stroke="#ebebeb" stroke-width="0.9"/>
<line x1="511.40" y1="466.00" x2="511.40" y2="639.60" stroke="#1a1a1a" stroke-width="1.1" stroke-dasharray="3,3.4" stroke-dashoffset="1.4"/>
<text x="343.80" y="489.40" font-size="6.9" font-weight="700" fill="#404040">Age</text>
<text x="343.80" y="517.20" font-size="6.9" font-weight="700" fill="#404040">Sex</text>
<text x="343.80" y="550.70" font-size="6.9" font-weight="700" fill="#404040">GL</text>
<text x="343.80" y="558.90" font-size="6.9" font-weight="700" fill="#404040">truncating</text>
<text x="343.80" y="586.00" font-size="6.9" font-weight="700" fill="#404040">R525</text>
<text x="343.80" y="621.40" font-size="6.9" font-weight="700" fill="#404040">N. of variants</text>
<line x1="518.50" y1="485.80" x2="567.00" y2="485.80" stroke="#222" stroke-width="1.0"/>
<circle cx="542.90" cy="485.80" r="1.6" fill="#000"/>
<text x="542.90" y="486.10" font-size="8.2" text-anchor="middle" fill="#111">(p: 7.83e−03)</text>
<line x1="473.40" y1="518.80" x2="522.30" y2="518.80" stroke="#222" stroke-width="1.0"/>
<circle cx="497.90" cy="518.80" r="1.6" fill="#000"/>
<text x="497.90" y="519.10" font-size="8.2" text-anchor="middle" fill="#111">(p: 2.65e−01)</text>
<line x1="510.00" y1="553.00" x2="557.50" y2="553.00" stroke="#222" stroke-width="1.0"/>
<circle cx="532.90" cy="553.00" r="1.6" fill="#000"/>
<text x="532.90" y="553.30" font-size="8.2" text-anchor="middle" fill="#111">(p: 3.07e−02)</text>
<line x1="550.00" y1="586.20" x2="609.40" y2="586.20" stroke="#222" stroke-width="1.0"/>
<circle cx="579.10" cy="586.20" r="1.6" fill="#000"/>
<text x="579.10" y="586.50" font-size="8.2" text-anchor="middle" fill="#111">(p: 6.94e−06)</text>
<line x1="427.20" y1="619.90" x2="491.10" y2="619.90" stroke="#222" stroke-width="1.0"/>
<circle cx="459.50" cy="619.90" r="1.6" fill="#000"/>
<text x="459.50" y="620.20" font-size="8.2" text-anchor="middle" fill="#111">(p: 1.34e−03)</text>
<text x="453.70" y="633.30" font-size="8.2" text-anchor="middle" fill="#3d9be0">[AIC: 648.549]</text>
<text x="439.90" y="649.00" font-size="6.5" text-anchor="middle" fill="#7a7a7a">−2.5</text>
<text x="511.50" y="649.00" font-size="6.5" text-anchor="middle" fill="#7a7a7a">0.0</text>
<text x="583.10" y="649.00" font-size="6.5" text-anchor="middle" fill="#7a7a7a">2.5</text>
<text x="518.30" y="658.20" font-size="8.4" text-anchor="middle" fill="#222">log(HR)</text>
</svg>
</body></html>
